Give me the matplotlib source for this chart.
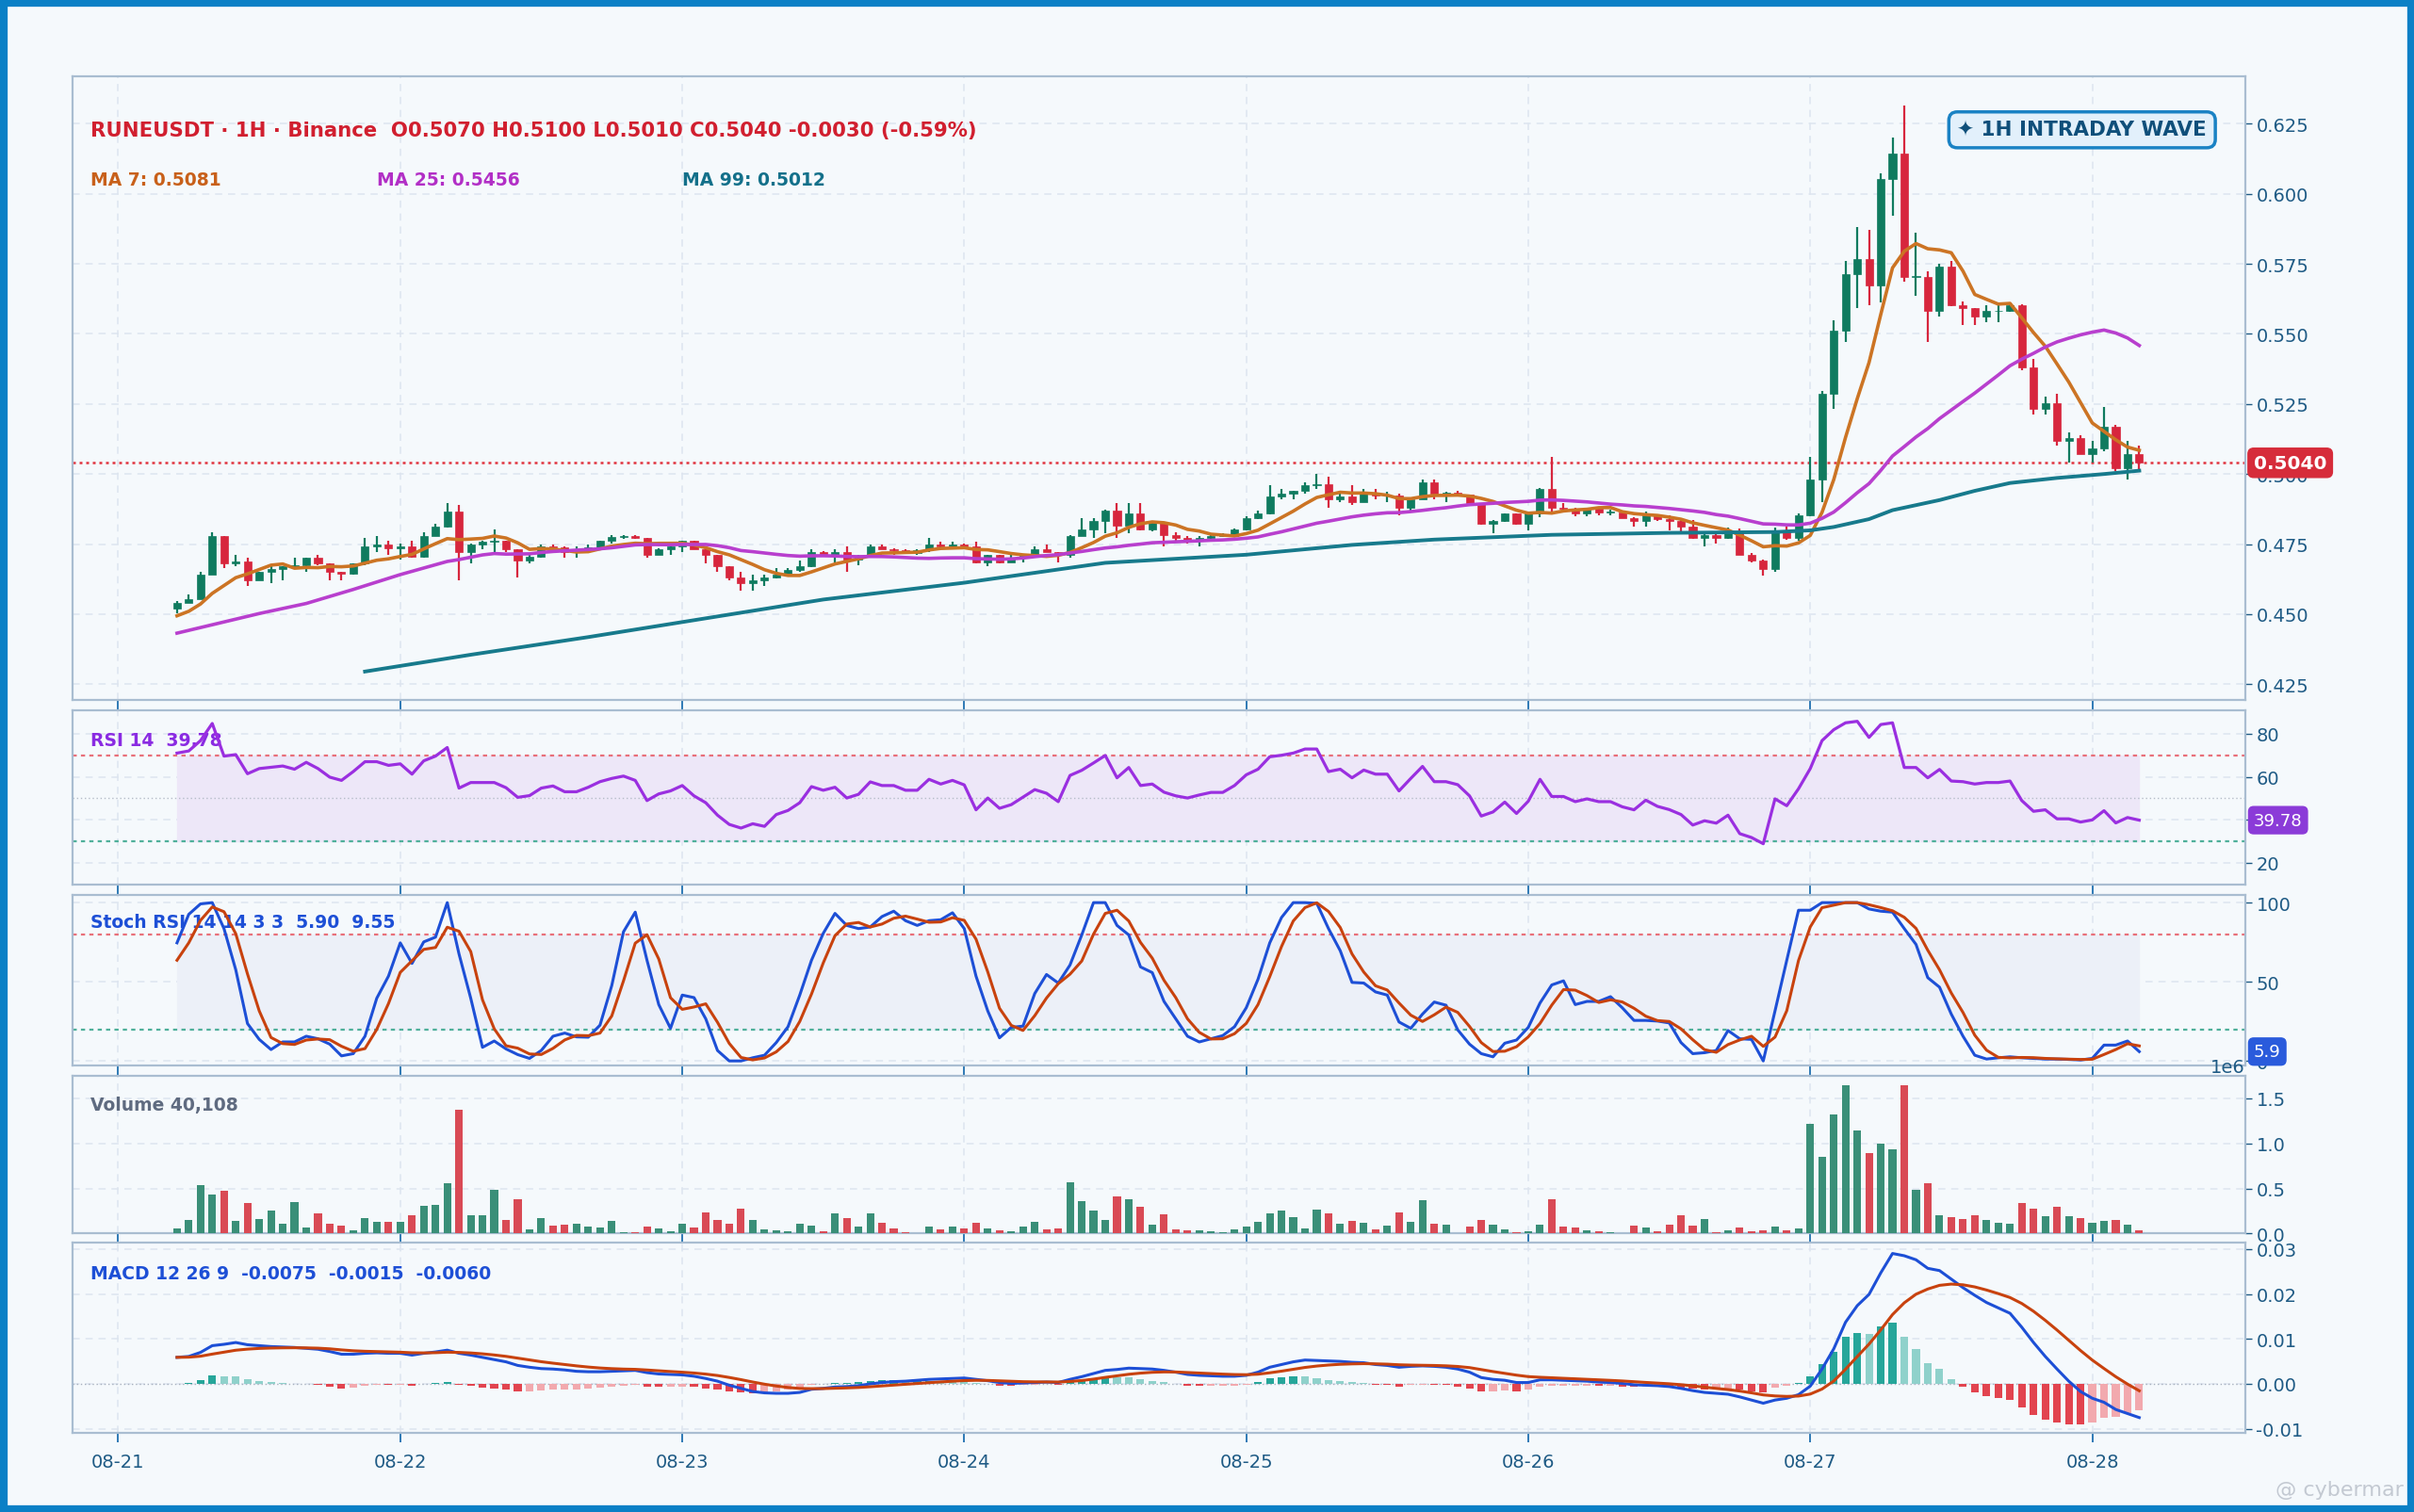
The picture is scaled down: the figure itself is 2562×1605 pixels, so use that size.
import numpy as np
import pandas as pd
import matplotlib
matplotlib.use('Agg')
import matplotlib.pyplot as plt
import matplotlib.dates as mdates
import matplotlib.transforms as mtrans
from matplotlib.patches import Rectangle

# hourly candles, 08-21 05:00 .. 08-28 04:00
start = pd.Timestamp('2024-08-21 05:00')
day0 = pd.Timestamp('2024-08-21')
first_open = 0.4521

closes = [
    .4541, .4552, .4641, .4780, .4682, .4688, .4622, .4650, .4660, .4671,
    .4674, .4701, .4682, .4652, .4643, .4680, .4741, .4747, .4736, .4741,
    .4704, .4780, .4811, .4867, .4722, .4750, .4758, .4763, .4730, .4691,
    .4704, .4741, .4739, .4722, .4724, .4739, .4761, .4774, .4780, .4771,
    .4711, .4732, .4741, .4761, .4732, .4711, .4672, .4632, .4611, .4622,
    .4630, .4641, .4658, .4671, .4722, .4710, .4721, .4694, .4705, .4741,
    .4733, .4727, .4719, .4728, .4750, .4743, .4750, .4741, .4683, .4711,
    .4683, .4702, .4711, .4730, .4722, .4711, .4780, .4803, .4831, .4870,
    .4814, .4858, .4803, .4825, .4782, .4773, .4763, .4771, .4780, .4780,
    .4803, .4842, .4858, .4920, .4931, .4939, .4959, .4965, .4911, .4920,
    .4900, .4931, .4922, .4922, .4881, .4909, .4969, .4931, .4933, .4928,
    .4898, .4823, .4833, .4858, .4823, .4858, .4948, .4880, .4877, .4859,
    .4875, .4862, .4862, .4844, .4832, .4851, .4839, .4832, .4811, .4772,
    .4781, .4772, .4793, .4712, .4691, .4661, .4799, .4772, .4851, .4980,
    .5288, .5511, .5713, .5769, .5673, .6053, .6145, .5703, .5703, .5583,
    .5740, .5602, .5593, .5563, .5581, .5584, .5601, .5380, .5232, .5252,
    .5120, .5130, .5072, .5090, .5169, .5022, .5070, .5040]

highs = [
    .4545, .4569, .4650, .4791, .4780, .4711, .4702, .4652, .4672, .4672,
    .4702, .4702, .4711, .4682, .4652, .4682, .4771, .4780, .4763, .4752,
    .4761, .4791, .4821, .4897, .4888, .4752, .4763, .4801, .4763, .4730,
    .4711, .4750, .4750, .4741, .4741, .4750, .4763, .4782, .4782, .4782,
    .4771, .4735, .4743, .4763, .4761, .4732, .4711, .4672, .4650, .4641,
    .4641, .4663, .4663, .4691, .4732, .4724, .4730, .4741, .4710, .4750,
    .4750, .4735, .4730, .4730, .4771, .4760, .4760, .4752, .4760, .4712,
    .4711, .4711, .4712, .4741, .4750, .4722, .4781, .4842, .4842, .4872,
    .4898, .4898, .4898, .4831, .4828, .4792, .4780, .4780, .4783, .4790,
    .4805, .4848, .4870, .4959, .4948, .4941, .4969, .5000, .4989, .4931,
    .4959, .4948, .4948, .4937, .4931, .4911, .4979, .4979, .4937, .4939,
    .4928, .4898, .4835, .4860, .4858, .4860, .4950, .5060, .4895, .4880,
    .4878, .4878, .4872, .4870, .4846, .4866, .4853, .4853, .4840, .4835,
    .4784, .4785, .4808, .4805, .4719, .4695, .4810, .4811, .4858, .5060,
    .5298, .5550, .5761, .5881, .5871, .6073, .6202, .6314, .5861, .5725,
    .5750, .5760, .5617, .5593, .5601, .5610, .5610, .5605, .5410, .5277,
    .5287, .5150, .5140, .5120, .5240, .5175, .5120, .5100]

lows = [
    .4502, .4541, .4552, .4641, .4663, .4672, .4602, .4622, .4611, .4622,
    .4665, .4652, .4675, .4622, .4622, .4640, .4675, .4722, .4711, .4693,
    .4700, .4700, .4778, .4808, .4622, .4682, .4732, .4722, .4722, .4632,
    .4682, .4700, .4722, .4702, .4702, .4722, .4730, .4752, .4770, .4768,
    .4702, .4711, .4711, .4722, .4730, .4682, .4652, .4622, .4582, .4582,
    .4602, .4628, .4641, .4652, .4668, .4705, .4683, .4652, .4674, .4705,
    .4730, .4711, .4715, .4711, .4722, .4738, .4735, .4730, .4680, .4672,
    .4680, .4683, .4683, .4711, .4720, .4683, .4702, .4780, .4771, .4790,
    .4771, .4790, .4800, .4795, .4743, .4763, .4752, .4743, .4763, .4775,
    .4775, .4800, .4840, .4855, .4911, .4911, .4931, .4948, .4881, .4901,
    .4890, .4900, .4911, .4900, .4851, .4870, .4909, .4911, .4900, .4926,
    .4895, .4820, .4790, .4830, .4820, .4800, .4845, .4865, .4865, .4850,
    .4848, .4852, .4852, .4842, .4812, .4812, .4832, .4800, .4785, .4770,
    .4742, .4752, .4770, .4710, .4683, .4637, .4651, .4764, .4762, .4848,
    .4901, .5232, .5472, .5593, .5601, .5613, .5923, .5685, .5635, .5472,
    .5563, .5600, .5533, .5533, .5543, .5543, .5580, .5370, .5214, .5214,
    .5100, .5042, .5070, .5042, .5082, .5012, .4982, .5010]

# volume in millions
volume_m = [
    .056, .153, .541, .429, .478, .143, .342, .164, .258, .112,
    .352, .070, .227, .112, .091, .038, .174, .133, .133, .133,
    .206, .310, .321, .562, 1.367, .206, .206, .488, .153, .384,
    .049, .174, .091, .101, .112, .080, .070, .143, .017, .017,
    .080, .059, .028, .112, .070, .237, .153, .112, .279, .153,
    .049, .038, .028, .112, .091, .028, .227, .174, .080, .227,
    .122, .059, .017, .008, .080, .049, .080, .059, .122, .059,
    .038, .028, .080, .133, .049, .059, .572, .363, .258, .153,
    .415, .384, .300, .101, .216, .049, .038, .038, .028, .017,
    .049, .080, .133, .227, .258, .185, .059, .269, .227, .112,
    .143, .122, .049, .091, .237, .133, .373, .112, .101, .007,
    .080, .153, .101, .049, .017, .028, .101, .384, .080, .070,
    .038, .028, .017, .007, .091, .070, .028, .101, .206, .091,
    .164, .017, .038, .070, .028, .038, .080, .038, .059, 1.210,
    .844, 1.315, 1.639, 1.137, .886, .991, .928, 1.639, .488, .562,
    .206, .185, .164, .206, .153, .122, .112, .342, .279, .195,
    .300, .195, .174, .122, .143, .153, .101, .0401]

rsi = [
    71.0, 72.0, 76.8, 84.8, 69.6, 70.3, 61.4, 63.8, 64.4, 65.0,
    63.5, 66.7, 63.8, 59.8, 58.3, 62.4, 67.0, 67.0, 65.3, 66.0,
    61.2, 67.4, 69.6, 73.6, 54.7, 57.3, 57.3, 57.3, 54.9, 50.4,
    51.2, 54.7, 55.7, 53.0, 53.0, 55.1, 57.7, 59.2, 60.3, 58.3,
    48.9, 52.0, 53.4, 55.9, 51.1, 47.9, 42.1, 37.8, 36.1, 38.1,
    36.9, 42.4, 44.3, 47.9, 55.4, 53.7, 55.1, 50.1, 51.8, 57.6,
    55.9, 55.9, 53.7, 53.7, 58.8, 56.6, 58.3, 56.2, 44.6, 50.1,
    45.3, 47.0, 50.5, 54.0, 52.3, 48.4, 60.6, 63.0, 66.4, 69.9,
    59.5, 64.3, 55.9, 56.6, 52.8, 51.1, 50.1, 51.5, 52.7, 52.7,
    55.9, 60.9, 63.5, 69.3, 70.0, 71.0, 72.9, 72.9, 62.4, 63.5,
    59.5, 63.1, 61.2, 61.2, 53.4, 59.2, 64.8, 57.7, 57.7, 56.3,
    51.1, 41.7, 43.6, 48.2, 42.9, 48.6, 58.8, 50.8, 50.8, 48.4,
    49.7, 48.4, 48.4, 46.0, 44.6, 49.1, 46.2, 44.7, 42.4, 37.5,
    39.5, 38.4, 42.1, 33.5, 31.7, 28.8, 49.7, 46.5, 54.4, 63.8,
    76.8, 81.9, 85.1, 85.8, 78.3, 84.3, 85.1, 64.3, 64.3, 59.5,
    63.4, 58.0, 57.7, 56.6, 57.3, 57.3, 58.0, 48.9, 43.9, 44.6,
    40.4, 40.4, 38.9, 39.9, 44.2, 38.5, 41.0, 39.78]

stoch_k = [
    74.6, 92.6, 99.2, 100, 83.6, 57.6, 23.6, 13.6, 7.2, 12,
    12, 15.6, 14, 10.6, 3.2, 4.6, 15.6, 39.6, 53.6, 74.6,
    61.6, 75.2, 78.2, 100, 67.6, 39.6, 8.6, 12.6, 7.6, 4,
    1.6, 6.6, 15.6, 17.6, 15.2, 15, 22.6, 47.6, 81.6, 94,
    63.6, 35.6, 20.6, 41.6, 40, 26.6, 6.6, 0, 0, 2,
    3.6, 11.6, 21.6, 41.6, 63.6, 80.6, 93.2, 85.6, 83.6, 84.6,
    91.2, 94.6, 88.6, 85.6, 88.6, 89.2, 93.6, 83.6, 53.6, 31.6,
    14.6, 21.2, 22, 42.6, 54.6, 49.2, 60.6, 79.6, 100, 100,
    85.6, 79.6, 59.4, 55.8, 37.6, 26.6, 15.6, 12, 14, 16,
    21.6, 33.6, 51.6, 74.6, 90.6, 100, 100, 99.6, 83.6, 69.6,
    49.6, 49.2, 43.6, 41.6, 24.6, 20.6, 29.6, 37.2, 35.2, 19.6,
    10.6, 4.6, 2.6, 11.2, 13.2, 21.2, 36.6, 48, 50.6, 35.6,
    37.6, 37.6, 40.6, 33.6, 25.6, 25.6, 25.2, 24, 11.6, 4.6,
    5.2, 6.6, 19.2, 14, 13.6, 0, 31.6, 63.6, 95.2, 95.2,
    100, 100, 100, 100, 96, 94.6, 94, 83.6, 73.6, 52.6,
    46.6, 29.6, 15.6, 3.6, 1.2, 2, 2.6, 2, 1.6, 1.2,
    1.2, 1, 0.6, 1.6, 10, 10, 12.6, 5.9]
# %D for the first two bars (earlier history not shown)
stoch_d_head = [63.6, 74.6]

macd = [
    .0059, .0061, .0070, .0085, .0088, .0092, .0087, .0085, .0083, .0082,
    .0081, .0079, .0077, .0072, .0066, .0066, .0068, .0069, .0068, .0068,
    .0064, .0068, .0071, .0075, .0068, .0064, .0059, .0054, .0049, .0041,
    .0037, .0034, .0033, .0031, .0028, .0027, .0027, .0028, .0029, .0030,
    .0025, .0022, .0021, .0020, .0017, .0012, .0006, -.0003, -.0010, -.0017,
    -.0020, -.0021, -.0021, -.0019, -.0012, -.0010, -.0007, -.0006, -.0004, .0000,
    .0003, .0005, .0006, .0008, .0010, .0011, .0012, .0013, .0010, .0007,
    .0003, .0001, .0002, .0003, .0004, .0003, .0010, .0016, .0023, .0030,
    .0032, .0035, .0034, .0033, .0030, .0026, .0021, .0019, .0018, .0017,
    .0017, .0019, .0026, .0037, .0043, .0049, .0053, .0052, .0051, .0050,
    .0048, .0047, .0043, .0041, .0037, .0039, .0040, .0039, .0037, .0033,
    .0026, .0014, .0010, .0008, .0003, .0003, .0009, .0009, .0008, .0007,
    .0006, .0004, .0003, .0001, -.0002, -.0003, -.0004, -.0006, -.0010, -.0015,
    -.0019, -.0021, -.0023, -.0029, -.0036, -.0043, -.0036, -.0032, -.0024, -.0005,
    .0033, .0078, .0137, .0174, .0199, .0247, .0290, .0285, .0276, .0257,
    .0252, .0233, .0214, .0197, .0181, .0169, .0157, .0126, .0092, .0061,
    .0033, .0006, -.0017, -.0032, -.0041, -.0057, -.0066, -.0075]

# moving average values before the full window
ma7_head = [0.4494, 0.4510, 0.4536, 0.4574, 0.4602, 0.4630]
ma25_head_hours = [5, 8, 12, 16, 20, 24, 28]
ma25_head = [0.4432, 0.4462, 0.4502, 0.4538, 0.4588, 0.4641, 0.4688]
ma99_hours = [21, 30, 40, 50, 60, 72, 84, 96, 105, 112, 122, 132, 141, 144,
              146, 149, 151, 155, 158, 161, 165, 169, 172]
ma99 = [.4295, .4355, .4418, .4485, .4552, .4612, .4683, .4712, .4747, .4766,
        .4783, .4790, .4793, .4799, .4811, .4839, .4871, .4907, .4940, .4968,
        .4986, .5000, .5012]

header = 'RUNEUSDT · 1H · Binance  O0.5070 H0.5100 L0.5010 C0.5040 -0.0030 (-0.59%)'

# ---- derived ----
n = len(closes)
times = pd.date_range(start, periods=n, freq='h')
c = np.array(closes)
o = np.array([first_open] + closes[:-1])
h = np.maximum(np.array(highs), np.maximum(o, c))
l = np.minimum(np.array(lows), np.minimum(o, c))
up = c >= o

s = pd.Series(closes)
ma7_line = ma7_head + list(s.rolling(7).mean()[6:])
ma25_t = [day0 + pd.Timedelta(hours=x) for x in ma25_head_hours] + list(times[24:])
ma25_line = ma25_head + list(s.rolling(25).mean()[24:])
ma99_t = [day0 + pd.Timedelta(hours=x) for x in ma99_hours]

stoch_d = stoch_d_head + list(pd.Series(stoch_k).rolling(3).mean()[2:])
macd_s = pd.Series(macd)
signal = macd_s.ewm(span=9, adjust=False).mean()
hist = (macd_s - signal).values

# ---- style ----
BG = '#f5f9fc'
SPINE = '#a9bdd1'
TICK = '#1f5b85'
GRID = '#dde5ef'
UPC = '#0f7b5f'
DNC = '#d7263d'
plt.rcParams['font.family'] = 'DejaVu Sans'

fig = plt.figure(figsize=(25.62, 16.06), dpi=100, facecolor=BG)
L, W = 0.030, 0.900
ax = fig.add_axes([L, 0.537, W, 0.412])
ax_rsi = fig.add_axes([L, 0.415, W, 0.115], sharex=ax)
ax_st = fig.add_axes([L, 0.295, W, 0.113], sharex=ax)
ax_v = fig.add_axes([L, 0.184, W, 0.104], sharex=ax)
ax_m = fig.add_axes([L, 0.052, W, 0.126], sharex=ax)
axes = [ax, ax_rsi, ax_st, ax_v, ax_m]

for a in axes:
    a.set_facecolor(BG)
    for sp in a.spines.values():
        sp.set_color(SPINE)
        sp.set_linewidth(1.6)
    a.yaxis.tick_right()
    a.tick_params(axis='y', colors=TICK, labelsize=14, length=5, width=1)
    a.tick_params(axis='x', colors='#1f6fb0', labelcolor=TICK, labelsize=14,
                  length=7, width=1.3, labelbottom=False)
    a.grid(True, color=GRID, linestyle=(0, (5, 4)), linewidth=1.1)
    a.set_axisbelow(True)
ax_m.tick_params(axis='x', labelbottom=True, pad=8)
ax.xaxis.set_major_locator(mdates.DayLocator())
ax.xaxis.set_major_formatter(mdates.DateFormatter('%m-%d'))
ax.set_xlim(day0 - pd.Timedelta(hours=3.9), day0 + pd.Timedelta(hours=181))

bw = 0.65 / 24

# ---- price panel ----
cols = np.where(up, UPC, DNC)
ax.vlines(times, l, h, colors=cols, linewidth=1.6, zorder=3)
body_h = np.maximum(np.abs(c - o), 0.00025)
ax.bar(times, body_h, bottom=np.minimum(o, c), width=bw, color=cols,
       edgecolor=cols, linewidth=0.5, zorder=3)
ax.plot(times, ma7_line, color='#cc7424', lw=2.6, zorder=4)
ax.plot(ma25_t, ma25_line, color='#b83fce', lw=2.6, zorder=4)
ax.plot(ma99_t, ma99, color='#177a8c', lw=2.8, zorder=4)
ax.axhline(closes[-1], color='#e03540', lw=1.8, ls=(0, (1.2, 1.6)), zorder=2)
ax.set_ylim(0.4195, 0.642)
ax.set_yticks(np.arange(0.425, 0.6251, 0.025))
ax.yaxis.set_major_formatter(plt.FormatStrFormatter('%.3f'))

tr = mtrans.blended_transform_factory(ax.transAxes, ax.transData)
ax.text(1.004, closes[-1], '0.5040', transform=tr, ha='left', va='center',
        fontsize=14.5, fontweight='bold', color='white', zorder=10, clip_on=False,
        bbox=dict(boxstyle='round,pad=0.3', fc='#d62c3a', ec='#d62c3a'))
ax.text(0.0085, 0.914, header, transform=ax.transAxes, fontsize=15.3,
        fontweight='bold', color='#d11f2f', va='center', ha='left')
ax.text(0.0085, 0.835, 'MA 7: 0.5081', transform=ax.transAxes, fontsize=13.5,
        fontweight='bold', color='#c8601a', va='center')
ax.text(0.140, 0.835, 'MA 25: 0.5456', transform=ax.transAxes, fontsize=13.5,
        fontweight='bold', color='#b22fc6', va='center')
ax.text(0.2805, 0.835, 'MA 99: 0.5012', transform=ax.transAxes, fontsize=13.5,
        fontweight='bold', color='#13708a', va='center')
ax.text(0.925, 0.914, '✦ 1H INTRADAY WAVE', transform=ax.transAxes,
        fontsize=15.5, fontweight='bold', color='#0f4f7a', ha='center', va='center',
        bbox=dict(boxstyle='round,pad=0.42', fc='#e2f0fb', ec='#1a82c4', lw=2.5))

# ---- RSI ----
ax_rsi.fill_between(times, 30, 70, color='#ede7f8', zorder=1)
ax_rsi.axhline(70, color='#e8707a', lw=1.6, ls=(0, (2, 2)), zorder=2)
ax_rsi.axhline(30, color='#4fb09a', lw=1.6, ls=(0, (2, 2)), zorder=2)
ax_rsi.axhline(50, color='#b5bcc8', lw=1.0, ls=(0, (1, 2)), zorder=2)
ax_rsi.plot(times, rsi, color='#9a2fe0', lw=2.3, zorder=4)
ax_rsi.set_ylim(10, 91)
ax_rsi.set_yticks([20, 40, 60, 80])
ax_rsi.text(0.0085, 0.83, 'RSI 14  39.78', transform=ax_rsi.transAxes,
            fontsize=13.5, fontweight='bold', color='#8a2be2', va='center')
tr = mtrans.blended_transform_factory(ax_rsi.transAxes, ax_rsi.transData)
ax_rsi.text(1.004, rsi[-1], '39.78', transform=tr, ha='left', va='center',
            fontsize=13, color='white', zorder=10, clip_on=False,
            bbox=dict(boxstyle='round,pad=0.3', fc='#8b3bd8', ec='#8b3bd8'))

# ---- Stoch RSI ----
ax_st.fill_between(times, 20, 80, color='#ecf0f8', zorder=1)
ax_st.axhline(80, color='#e8707a', lw=1.6, ls=(0, (2, 2)), zorder=2)
ax_st.axhline(20, color='#4fb09a', lw=1.6, ls=(0, (2, 2)), zorder=2)
ax_st.plot(times, stoch_k, color='#1d4fd6', lw=2.2, zorder=4)
ax_st.plot(times, stoch_d, color='#c8420e', lw=2.2, zorder=4)
ax_st.set_ylim(-3, 105)
ax_st.set_yticks([0, 50, 100])
ax_st.text(0.0085, 0.84, 'Stoch RSI 14 14 3 3  5.90  9.55', transform=ax_st.transAxes,
           fontsize=13.5, fontweight='bold', color='#1d4fd6', va='center')
tr = mtrans.blended_transform_factory(ax_st.transAxes, ax_st.transData)
ax_st.text(1.004, stoch_k[-1], '5.9', transform=tr, ha='left', va='center',
           fontsize=13, color='white', zorder=10, clip_on=False,
           bbox=dict(boxstyle='round,pad=0.3', fc='#2a5bdc', ec='#2a5bdc'))

# ---- Volume ----
vol = np.array(volume_m) * 1e6
vcols = np.where(up, '#3a8f78', '#d94a55')
ax_v.bar(times, vol, width=bw, color=vcols, zorder=3)
ax_v.set_ylim(0, 1.74e6)
ax_v.set_yticks([0, 0.5e6, 1.0e6, 1.5e6])
ax_v.yaxis.get_offset_text().set_fontsize(14)
ax_v.yaxis.get_offset_text().set_color(TICK)
ax_v.text(0.0085, 0.82, 'Volume 40,108', transform=ax_v.transAxes,
          fontsize=13.5, fontweight='bold', color='#5f6b80', va='center')

# ---- MACD ----
hcols = []
for i, v in enumerate(hist):
    prev = hist[i - 1] if i > 0 else v
    if v >= 0:
        hcols.append('#26a69a' if v >= prev else '#8fd1cb')
    else:
        hcols.append('#e2444f' if v < prev else '#f2a9ae')
ax_m.bar(times, hist, width=bw, color=hcols, zorder=3)
ax_m.axhline(0, color='#a6afbd', lw=1.0, ls=(0, (1, 2)), zorder=2)
ax_m.plot(times, macd, color='#1d4fd6', lw=2.2, zorder=4)
ax_m.plot(times, signal, color='#c8420e', lw=2.2, zorder=4)
ax_m.set_ylim(-0.011, 0.0314)
ax_m.set_yticks([-0.01, 0.0, 0.01, 0.02, 0.03])
ax_m.yaxis.set_major_formatter(plt.FormatStrFormatter('%.2f'))
ax_m.text(0.0085, 0.84, 'MACD 12 26 9  -0.0075  -0.0015  -0.0060', transform=ax_m.transAxes,
          fontsize=13.5, fontweight='bold', color='#1d4fd6', va='center')

# frame + watermark
fig.patches.append(Rectangle((0, 0), 1, 1, transform=fig.transFigure, fill=False,
                             ec='#0a80c6', lw=11, zorder=100))
fig.text(0.9426, 0.015, '@ cybermar', fontsize=16, color='#c3c9d2', va='center')

fig.savefig('out.png', dpi=100, facecolor=BG)
